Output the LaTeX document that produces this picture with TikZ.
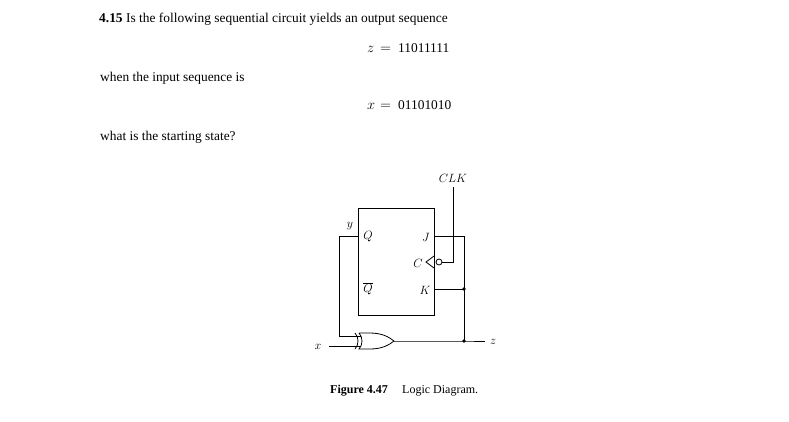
\documentclass[tikz,border=0pt]{standalone}
\usepackage{fontspec}
\setmainfont{Liberation Serif}
\begin{document}
\begin{tikzpicture}[x=1pt,y=-1pt,
  txt/.style={anchor=base west,inner sep=0pt,font=\fontsize{13.4}{16}\selectfont},
  cp/.style={anchor=base west,inner sep=0pt,font=\fontsize{12}{14}\selectfont},
  lbl/.style={inner sep=0pt,font=\fontsize{11.5}{13}\selectfont},
  wire/.style={line width=0.8pt},
  dot/.style={circle,fill,inner sep=1.3pt}]
\useasboundingbox (0,0) rectangle (789,421);
\node[txt] (n) at (99,22) {\textbf{4.15}};
\node[txt] (q) at (126,22) {Is the following sequential circuit yields an output sequence};
\node[txt] (zs) at (367,52) {$z$};
\node[txt] (ze) at (380,52) {$=$};
\node[txt] (zv) at (398,52) {11011111};
\node[txt] (w) at (100,81) {when the input sequence is};
\node[txt] (xs) at (367,109) {$x$};
\node[txt] (xe) at (380,109) {$=$};
\node[txt] (xv) at (398,109) {01101010};
\node[txt] (wh) at (100,140) {what is the starting state?};
\node[cp] (cap) at (330,393) {\textbf{Figure 4.47}};
\node[cp] (cap2) at (402,393) {Logic Diagram.};
% flip-flop
\draw[wire] (358,208) rectangle (434,315);
\node[lbl] (Q) at (368,237) {$Q$};
\node[lbl] (Qb) at (368,289) {$\overline{Q}$};
\node[lbl] (J) at (426,237) {$J$};
\node[lbl] (C) at (418,263) {$C$};
\node[lbl] (K) at (425,290) {$K$};
\node[lbl] (y) at (350,226) {$y$};
\node[lbl] (clk) at (453,178) {$CLK$};
\draw[wire] (434,256) -- (426,262) -- (434,268);
\draw[wire] (439,262) circle (3);
\coordinate (clkb) at (453,262);
\draw[wire] (453,187) -- (clkb) -- (442,262);
% J K wiring
\coordinate (jr) at (464,236);
\coordinate (kd) at (464,289);
\coordinate (zd) at (464,341);
\coordinate (zend) at (485,341);
\node[lbl] (z) at (493,342) {$z$};
\draw[wire] (434,236) -- (jr) -- (zd);
\draw[wire] (434,289) -- (kd);
\node[dot] at (kd) {};
\node[dot] at (zd) {};
% Q feedback
\draw[wire] (358,236) -- (339,236) -- (339,336) -- (361,336);
\node[lbl] (x) at (318,347) {$x$};
\draw[wire] (329,346) -- (361,346);
% XOR gate
\draw[wire] (359,333) -- (370,333) .. controls (382,333) and (389,337) .. (394,341)
  .. controls (389,345) and (382,349) .. (370,349) -- (359,349)
  .. controls (363,345) and (363,337) .. (359,333);
\draw[wire] (355,333) .. controls (359,337) and (359,345) .. (355,349);
\draw[wire] (394,341) -- (zd) -- (zend);
\end{tikzpicture}
\end{document}
